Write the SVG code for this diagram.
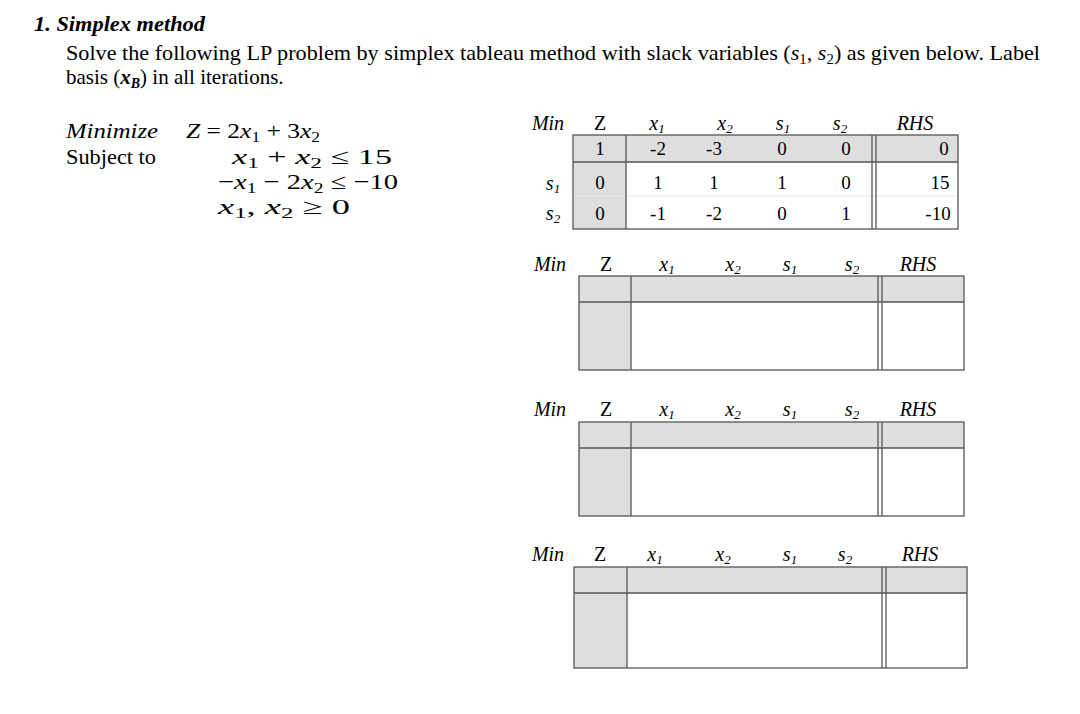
<svg xmlns="http://www.w3.org/2000/svg" width="1080" height="714" viewBox="0 0 1080 714">
<style>
text{font-family:"Liberation Serif","Times New Roman",serif;fill:#000}
.t{font-size:21px}
.i{font-style:italic}
.h{font-size:20px;text-anchor:middle}
.v{font-size:19px;text-anchor:middle}
.m{font-size:22px}
.g{fill:#dedede}
.ln{stroke:#555;stroke-width:1.3;fill:none}
.fl{stroke:#e8e8e8;stroke-width:1;fill:none}
</style>
<rect width="1080" height="714" fill="#fff"/>
<g id="header">
<text x="34" y="31" font-size="21" font-weight="bold" font-style="italic" textLength="171" lengthAdjust="spacingAndGlyphs">1. Simplex method</text>
<text class="t" x="66" y="60" textLength="974" lengthAdjust="spacingAndGlyphs">Solve the following LP problem by simplex tableau method with slack variables (<tspan class="i">s</tspan><tspan font-size="14" dy="4">1</tspan><tspan dy="-4">, </tspan><tspan class="i">s</tspan><tspan font-size="14" dy="4">2</tspan><tspan dy="-4">) as given below. Label</tspan></text>
<text class="t" x="66" y="84">basis (<tspan font-weight="bold" font-style="italic">x</tspan><tspan font-weight="bold" font-style="italic" font-size="14" dy="4">B</tspan><tspan dy="-4">) in all iterations.</tspan></text>
</g>
<g id="problem">
<text class="t i" x="66" y="138" textLength="92" lengthAdjust="spacingAndGlyphs">Minimize</text>
<text class="t" x="66" y="164" textLength="90" lengthAdjust="spacingAndGlyphs">Subject to</text>
<text class="m" x="186" y="138" textLength="134" lengthAdjust="spacingAndGlyphs"><tspan class="i">Z</tspan> = 2<tspan class="i">x</tspan><tspan font-size="15" dy="4">1</tspan><tspan dy="-4"> + 3</tspan><tspan class="i">x</tspan><tspan font-size="15" dy="4">2</tspan></text>
<text class="m" x="232" y="164" textLength="160" lengthAdjust="spacingAndGlyphs"><tspan class="i">x</tspan><tspan font-size="15" dy="4">1</tspan><tspan dy="-4"> +  </tspan><tspan class="i">x</tspan><tspan font-size="15" dy="4">2</tspan><tspan dy="-4">  ≤  15</tspan></text>
<text class="m" x="218" y="189" textLength="180" lengthAdjust="spacingAndGlyphs">−<tspan class="i">x</tspan><tspan font-size="15" dy="4">1</tspan><tspan dy="-4"> − 2</tspan><tspan class="i">x</tspan><tspan font-size="15" dy="4">2</tspan><tspan dy="-4">  ≤ −10</tspan></text>
<text class="m" x="218" y="214" textLength="132" lengthAdjust="spacingAndGlyphs"><tspan class="i">x</tspan><tspan font-size="15" dy="4">1</tspan><tspan dy="-4">,    </tspan><tspan class="i">x</tspan><tspan font-size="15" dy="4">2</tspan><tspan dy="-4">  ≥ 0</tspan></text>
</g>
<g id="tableau1">
<text class="h i" x="548" y="130">Min</text><text class="h" x="600" y="130">Z</text>
<text class="h i" x="657" y="130">x<tspan font-size="13" dy="3">1</tspan></text>
<text class="h i" x="725" y="130">x<tspan font-size="13" dy="3">2</tspan></text>
<text class="h i" x="783" y="130">s<tspan font-size="13" dy="3">1</tspan></text>
<text class="h i" x="840" y="130">s<tspan font-size="13" dy="3">2</tspan></text>
<text class="h i" x="915" y="130">RHS</text>
<rect class="g" x="573" y="135" width="385" height="27"/>
<rect class="g" x="573" y="162" width="53" height="67"/>
<line class="fl" x1="573" y1="196" x2="958" y2="196"/>
<rect class="ln" x="573" y="135" width="385" height="94"/>
<line class="ln" x1="573" y1="162" x2="958" y2="162"/>
<line class="ln" x1="626" y1="135" x2="626" y2="229"/>
<line class="ln" x1="872" y1="135" x2="872" y2="229"/>
<line class="ln" x1="876" y1="135" x2="876" y2="229"/>
<text class="v" x="600" y="155">1</text><text class="v" x="658" y="155">-2</text><text class="v" x="714" y="155">-3</text><text class="v" x="782" y="155">0</text><text class="v" x="846" y="155">0</text><text class="v" x="944" y="155">0</text>
<text class="h i" x="553" y="190">s<tspan font-size="13" dy="3">1</tspan></text>
<text class="v" x="600" y="189">0</text><text class="v" x="658" y="189">1</text><text class="v" x="714" y="189">1</text><text class="v" x="782" y="189">1</text><text class="v" x="846" y="189">0</text><text class="v" x="940" y="189">15</text>
<text class="h i" x="553" y="220">s<tspan font-size="13" dy="3">2</tspan></text>
<text class="v" x="600" y="220">0</text><text class="v" x="658" y="220">-1</text><text class="v" x="714" y="220">-2</text><text class="v" x="782" y="220">0</text><text class="v" x="846" y="220">1</text><text class="v" x="938" y="220">-10</text>
</g>
<g id="tableau2">
<text class="h i" x="550" y="271">Min</text><text class="h" x="606" y="271">Z</text>
<text class="h i" x="667" y="271">x<tspan font-size="13" dy="3">1</tspan></text>
<text class="h i" x="733" y="271">x<tspan font-size="13" dy="3">2</tspan></text>
<text class="h i" x="790" y="271">s<tspan font-size="13" dy="3">1</tspan></text>
<text class="h i" x="852" y="271">s<tspan font-size="13" dy="3">2</tspan></text>
<text class="h i" x="918" y="271">RHS</text>
<rect class="g" x="579" y="276" width="385" height="26"/>
<rect class="g" x="579" y="302" width="52" height="68"/>
<rect class="ln" x="579" y="276" width="385" height="94"/>
<line class="ln" x1="579" y1="302" x2="964" y2="302"/>
<line class="ln" x1="631" y1="276" x2="631" y2="370"/>
<line class="ln" x1="878" y1="276" x2="878" y2="370"/>
<line class="ln" x1="882" y1="276" x2="882" y2="370"/>
</g>
<g id="tableau3">
<text class="h i" x="550" y="416">Min</text><text class="h" x="606" y="416">Z</text>
<text class="h i" x="667" y="416">x<tspan font-size="13" dy="3">1</tspan></text>
<text class="h i" x="733" y="416">x<tspan font-size="13" dy="3">2</tspan></text>
<text class="h i" x="790" y="416">s<tspan font-size="13" dy="3">1</tspan></text>
<text class="h i" x="852" y="416">s<tspan font-size="13" dy="3">2</tspan></text>
<text class="h i" x="918" y="416">RHS</text>
<rect class="g" x="579" y="422" width="385" height="26"/>
<rect class="g" x="579" y="448" width="52" height="68"/>
<rect class="ln" x="579" y="422" width="385" height="94"/>
<line class="ln" x1="579" y1="448" x2="964" y2="448"/>
<line class="ln" x1="631" y1="422" x2="631" y2="516"/>
<line class="ln" x1="878" y1="422" x2="878" y2="516"/>
<line class="ln" x1="882" y1="422" x2="882" y2="516"/>
</g>
<g id="tableau4">
<text class="h i" x="548" y="561">Min</text><text class="h" x="600" y="561">Z</text>
<text class="h i" x="655" y="561">x<tspan font-size="13" dy="3">1</tspan></text>
<text class="h i" x="723" y="561">x<tspan font-size="13" dy="3">2</tspan></text>
<text class="h i" x="790" y="561">s<tspan font-size="13" dy="3">1</tspan></text>
<text class="h i" x="845" y="561">s<tspan font-size="13" dy="3">2</tspan></text>
<text class="h i" x="920" y="561">RHS</text>
<rect class="g" x="574" y="567" width="393" height="26"/>
<rect class="g" x="574" y="593" width="53" height="75"/>
<rect class="ln" x="574" y="567" width="393" height="101" stroke="#222"/>
<line class="ln" x1="574" y1="593" x2="967" y2="593"/>
<line class="ln" x1="627" y1="567" x2="627" y2="668" stroke="#111"/>
<line class="ln" x1="882" y1="567" x2="882" y2="668" stroke="#111"/>
<line class="ln" x1="886" y1="567" x2="886" y2="668" stroke="#111"/>
</g>
<g id="connectors"></g>
</svg>
